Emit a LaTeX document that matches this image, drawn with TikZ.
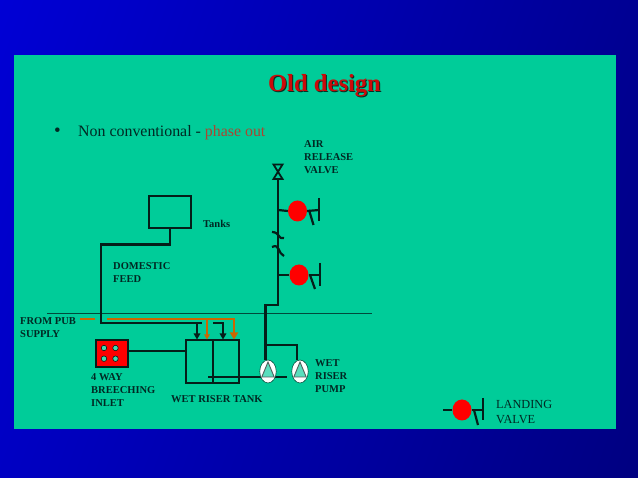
\documentclass[tikz,border=0pt]{standalone}
\usepackage{fontspec}
\setmainfont{Liberation Serif}
\usetikzlibrary{arrows.meta,shapes.geometric}
\definecolor{slidegreen}{RGB}{0,204,153}
\definecolor{inkgreen}{RGB}{0,40,35}
\definecolor{pipeink}{RGB}{5,30,25}
\definecolor{orangepipe}{RGB}{204,102,0}
\definecolor{titlered}{RGB}{204,10,10}
\definecolor{phasered}{RGB}{170,70,50}
\pgfdeclarefunctionalshading{bgblue}{\pgfpoint{0bp}{0bp}}{\pgfpoint{100bp}{100bp}}{}{
  100 div 1 exch sub 0.14 mul
  exch 100 div 0.52 mul add
  1 exch sub
  0 0 3 2 roll
}
\tikzset{
  x=1pt,y=-1pt,
  pipe/.style={draw=pipeink,line width=2.2pt,line join=miter},
  thickpipe/.style={draw=pipeink,line width=2.6pt},
  orangeline/.style={draw=orangepipe,line width=2.2pt},
  lbl/.style={inner sep=0pt,anchor=north west,align=left,text=inkgreen,font=\bfseries\fontsize{10.5}{13}\selectfont},
  legendlbl/.style={inner sep=0pt,anchor=north west,align=left,text=inkgreen,font=\fontsize{12.3}{15}\selectfont},
  lv/.style={draw=none,fill=red,ellipse,minimum width=19pt,minimum height=21pt,inner sep=0pt},
  pumpbody/.style={draw=pipeink!70!slidegreen,line width=.6pt,fill=white,ellipse,minimum width=16.5pt,minimum height=23pt,inner sep=0pt},
  hole/.style={circle,draw=pipeink,line width=.6pt,fill=slidegreen!75!white,minimum size=5.5pt,inner sep=0pt},
  tankbox/.style={draw=pipeink,line width=2.2pt,inner sep=0pt},
  tri/.style={draw=pipeink!70!white,line width=.9pt,fill=slidegreen!65!white},
}
\begin{document}
\begin{tikzpicture}
\useasboundingbox (0,0) rectangle (638,478);
\shade[shading=bgblue] (0,0) rectangle (638,478);
\fill[slidegreen] (14,55) rectangle (616,429);
% thin ground line
\coordinate (gl) at (47,313); \coordinate (gr) at (372,313);
\draw[draw=inkgreen!80!slidegreen,line width=.5pt] (gl) -- (gr);
% title
\node[inner sep=0pt,text=black!75!slidegreen,font=\bfseries\fontsize{24.6}{28}\selectfont] (titleS) at (325.5,86.7) {Old design};
\node[inner sep=0pt,text=titlered,font=\bfseries\fontsize{24.6}{28}\selectfont] (title) at (324.5,85.7) {Old design};
\node[inner sep=0pt,anchor=base west,text=inkgreen,font=\fontsize{19}{20}\selectfont] (bul) at (54,137) {•};
\node[inner sep=0pt,anchor=base west,text=inkgreen,font=\fontsize{15.9}{18}\selectfont] (sub) at (78,137) {Non conventional - \textcolor{phasered}{phase out}};
% labels
\node[lbl] (air) at (304,140.5) {AIR\\RELEASE\\VALVE};
\node[lbl] (tanktxt) at (203,220) {Tanks};
\node[lbl] (dom) at (113,262.5) {DOMESTIC\\FEED};
\node[lbl] (pub) at (20,317) {FROM PUB\\SUPPLY};
\node[lbl] (bre) at (91,373) {4 WAY\\BREECHING\\INLET};
\node[lbl] (wrt) at (171,395) {WET RISER TANK};
\node[lbl] (wrp) at (315,359.5) {WET\\RISER\\PUMP};
\node[legendlbl] (leg) at (496,400) {LANDING\\VALVE};
% tanks box and domestic feed
\node[tankbox,minimum width=42pt,minimum height=32pt] (tanks) at (170,212) {};
\coordinate (d1) at (101,244.5);
\coordinate (d2) at (101,323);
\coordinate (d3) at (202,323);
\coordinate (d4) at (197,323);
\coordinate (d5) at (213,323);
\coordinate (d6) at (223,323);
\draw[pipe] (tanks.south) |- (d1) -- (d2) -- (d3);
% wet riser tank
\node[tankbox,minimum width=53pt,minimum height=43pt] (wrtank) at (212.5,361.5) {};
\coordinate (wdt) at (213,340); \coordinate (wdb) at (213,383);
\draw[pipe] (wdt) -- (wdb);
\draw[pipe,-{Triangle[length=6pt,width=6.5pt]}] (d4) -- (197,339.5);
\draw[pipe,-{Triangle[length=6pt,width=6.5pt]}] (d5) -- (d6) -- (223,339.5);
% breeching inlet
\node[draw=pipeink,line width=2.2pt,fill=red,minimum width=32pt,minimum height=27pt,inner sep=0pt] (inlet) at (112,353.5) {};
\node[hole] (h1) at (104,348) {};
\node[hole] (h2) at (115.5,348) {};
\node[hole] (h3) at (104,358.7) {};
\node[hole] (h4) at (115.5,358.7) {};
\draw[pipe] (inlet.east |- 0,351) -- (186,351);
% orange supply
\coordinate (o1) at (80,319); \coordinate (o2) at (95,319);
\coordinate (o3) at (107,319); \coordinate (o4) at (234,319);
\coordinate (o5) at (207,319);
\draw[orangeline] (o1) -- (o2);
\draw[orangeline,-{Triangle[length=7pt,width=8pt]}] (o3) -- (o4) -- (234,339.5);
\draw[draw=orangepipe,line width=1.2pt,-{Triangle[length=5pt,width=5.5pt]}] (o5) -- (207,339.5);
% pumps
\coordinate (s1) at (208,377); \coordinate (s2) at (287,377);
\draw[pipe] (s1) -- (s2);
\node[pumpbody] (p1) at (268,371.5) {};
\node[pumpbody] (p2) at (300,371.5) {};
\draw[tri] (268,362) -- (261.8,377) -- (274.2,377) -- cycle;
\draw[tri] (300,362) -- (293.8,377) -- (306.2,377) -- cycle;
% risers
\coordinate (r1) at (265.5,345); \coordinate (r2) at (278,305); \coordinate (r3) at (265.5,305);
\coordinate (rv) at (278,179);
\draw[thickpipe,line join=miter] (p1.north -| r1) -- (r3) -- (r2) -- (rv);
\draw[pipe] (r1) -- (297,345) -- (297,360.5);
% air release valve
\node[inner sep=0pt,minimum size=0pt] (vt) at (278,171.5) {};
\draw[draw=pipeink,line width=1.8pt,line join=miter] (273.5,164.5) -- (282.5,164.5) -- (273.5,179) -- (282.5,179) -- cycle;
% break marks
\draw[pipe] (272,232) .. controls (280,232) and (278,240) .. (284,238);
\draw[pipe] (272,247) .. controls (280,243) and (278,254) .. (284,256);
% landing valves
\node[lv] (lv1) at (297.5,211) {};
\draw[pipe] (278,210) -- (lv1.west);
\draw[pipe] (lv1.east) -- (319,210);
\coordinate (b1a) at (319,198); \coordinate (b1b) at (319,221);
\draw[pipe] (b1a) -- (b1b);
\draw[pipe] (309,210) -- (313.5,225);
\node[lv] (lv2) at (299,275) {};
\draw[pipe] (278,275) -- (lv2.west);
\draw[pipe] (lv2.east) -- (320,275);
\coordinate (b2a) at (320,263); \coordinate (b2b) at (320,286);
\draw[pipe] (b2a) -- (b2b);
\draw[pipe] (310,275) -- (315,289);
% legend valve
\node[lv] (lv3) at (462,410) {};
\coordinate (l0) at (443,410);
\draw[pipe] (l0) -- (lv3.west);
\draw[pipe] (lv3.east) -- (483,410);
\coordinate (b3a) at (483,398); \coordinate (b3b) at (483,420);
\draw[pipe] (b3a) -- (b3b);
\draw[pipe] (474,410) -- (478,425);
\end{tikzpicture}
\end{document}
